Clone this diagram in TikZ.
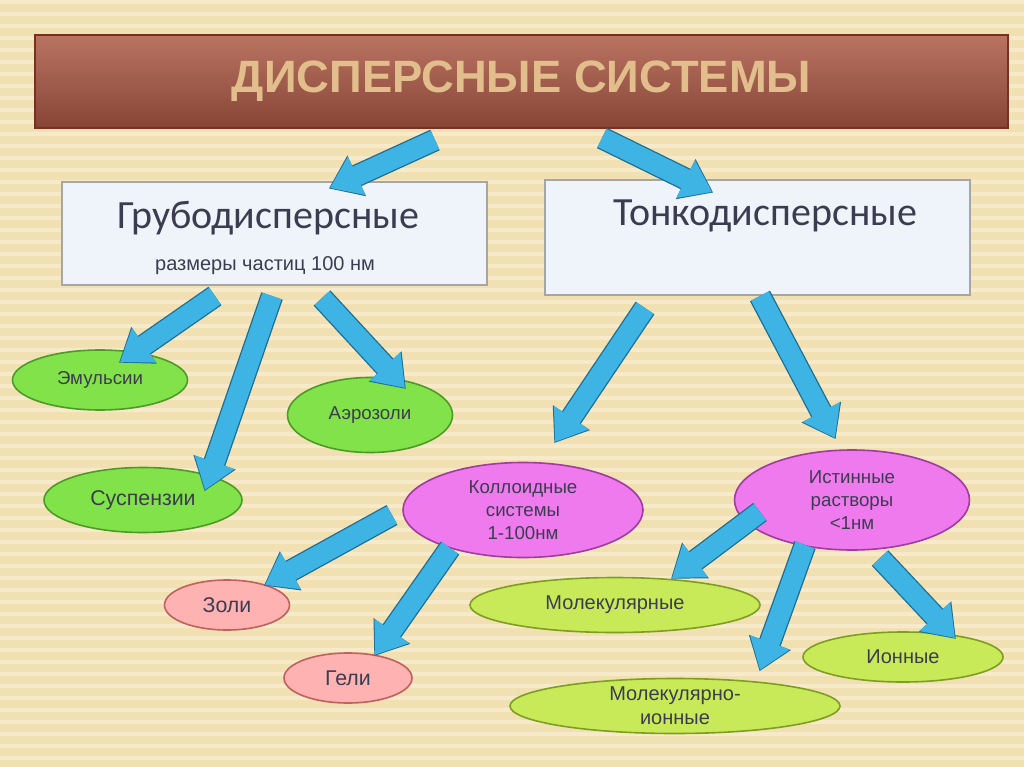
\documentclass[tikz,border=0pt]{standalone}
\usepackage{fontspec}
\setmainfont{Liberation Sans}
\newfontfamily\hdfont{Carlito}
\usetikzlibrary{arrows.meta,shapes.geometric}
\definecolor{bg}{HTML}{F1E0B2}
\definecolor{bgl}{HTML}{F6EACB}
\definecolor{ttl}{HTML}{A8503A}
\definecolor{ttld}{HTML}{7A3020}
\definecolor{ttltx}{HTML}{E2BE8C}
\definecolor{arr}{HTML}{3EB4E4}
\definecolor{arrd}{HTML}{1F6F95}
\definecolor{gr}{HTML}{82E24A}
\definecolor{grd}{HTML}{4E9A28}
\definecolor{pk}{HTML}{EE7AEE}
\definecolor{pkd}{HTML}{A03CA0}
\definecolor{sm}{HTML}{FFB2B2}
\definecolor{smd}{HTML}{C06060}
\definecolor{lg}{HTML}{C8EA58}
\definecolor{lgd}{HTML}{7E9E22}
\definecolor{bx}{HTML}{EEF4FA}
\definecolor{tx}{HTML}{3C3C50}
\begin{document}
\begin{tikzpicture}[x=0.75pt,y=-0.75pt,
  blockarrow/.style={line width=15pt,arr,-{Triangle[length=22pt,width=30pt]},
     preaction={draw=arrd,line width=17pt,-{Triangle[length=23pt,width=32pt]},shorten >=-1pt}},
  ell/.style={ellipse,draw,line width=1.2pt,inner sep=0pt,align=center,font=\fontsize{14}{17}\selectfont,text=tx},
  gbox/.style={draw=gray!70,line width=1pt,fill=bx,inner sep=0pt}]
\fill[bg] (0,0) rectangle (1024,767);
\foreach \y in {0,12,...,767} \fill[bgl] (0,\y) rectangle (1024,\y+4);
\useasboundingbox (0,0) rectangle (1024,767);
% title
\node[draw=ttld,line width=1pt,top color=ttl!80,bottom color=ttld!90,minimum width=973*0.75pt,minimum height=93*0.75pt,inner sep=0pt] (title) at (521.5,81.5) {};
\node[text=ttltx,font=\fontsize{34}{36}\selectfont\bfseries] (tt) at (title) {ДИСПЕРСНЫЕ СИСТЕМЫ};
% boxes
\node[gbox,minimum width=425*0.75pt,minimum height=103*0.75pt] (gb) at (274.5,233.5) {};
\node[text=tx,font=\hdfont\fontsize{30}{32}\selectfont] (gbt) at (268,218) {Грубодисперсные};
\node[text=tx,font=\fontsize{15}{18}\selectfont] (gbs) at (265,266) {размеры частиц 100 нм};
\node[gbox,minimum width=425*0.75pt,minimum height=115*0.75pt] (tb) at (757.5,237.5) {};
\node[text=tx,font=\hdfont\fontsize{30}{32}\selectfont] (tbt) at (765,216) {Тонкодисперсные};
% ellipses
\node[ell,fill=gr,draw=grd,minimum width=175*0.75pt,minimum height=60*0.75pt] (e1) at (100,380) {Эмульсии};
\node[ell,fill=gr,draw=grd,minimum width=165*0.75pt,minimum height=75*0.75pt] (e2) at (370,415) {Аэрозоли};
\node[ell,fill=gr,draw=grd,minimum width=198*0.75pt,minimum height=65*0.75pt,font=\fontsize{16}{19}\selectfont] (e3) at (143,500) {Суспензии};
\node[ell,fill=pk,draw=pkd,minimum width=240*0.75pt,minimum height=95*0.75pt] (e4) at (523,510) {Коллоидные\\системы\\1-100нм};
\node[ell,fill=pk,draw=pkd,minimum width=235*0.75pt,minimum height=100*0.75pt] (e5) at (852,500) {Истинные\\растворы\\<1нм};
\node[ell,fill=sm,draw=smd,minimum width=125*0.75pt,minimum height=50*0.75pt,font=\fontsize{16}{19}\selectfont] (e6) at (227,605) {Золи};
\node[ell,fill=sm,draw=smd,minimum width=128*0.75pt,minimum height=50*0.75pt,font=\fontsize{16}{19}\selectfont] (e7) at (348,678) {Гели};
\node[ell,fill=lg,draw=lgd,minimum width=290*0.75pt,minimum height=55*0.75pt,font=\fontsize{15}{18}\selectfont] (e8) at (615,605) {Молекулярные};
\node[ell,fill=lg,draw=lgd,minimum width=200*0.75pt,minimum height=50*0.75pt,font=\fontsize{15}{18}\selectfont] (e9) at (903,657) {Ионные};
\node[ell,fill=lg,draw=lgd,minimum width=330*0.75pt,minimum height=55*0.75pt,font=\fontsize{15}{18}\selectfont] (e10) at (675,706) {Молекулярно-\\ионные};
% arrow coordinates
\coordinate (a1) at (435,140); \coordinate (b1) at (330,188);
\coordinate (a2) at (602,138); \coordinate (b2) at (712,192);
\coordinate (a3) at (215,296); \coordinate (b3) at (120,362);
\coordinate (a4) at (272,296); \coordinate (b4) at (205,490);
\coordinate (a5) at (322,298); \coordinate (b5) at (405,388);
\coordinate (a6) at (645,308); \coordinate (b6) at (555,442);
\coordinate (a7) at (760,296); \coordinate (b7) at (835,438);
\coordinate (a8) at (392,515); \coordinate (b8) at (265,585);
\coordinate (a9) at (450,548); \coordinate (b9) at (375,655);
\coordinate (a10) at (760,512); \coordinate (b10) at (672,578);
\coordinate (a11) at (805,545); \coordinate (b11) at (760,670);
\coordinate (a12) at (880,558); \coordinate (b12) at (955,638);
\foreach \i in {1,...,12} \draw[blockarrow] (a\i) -- (b\i);
\end{tikzpicture}
\end{document}
